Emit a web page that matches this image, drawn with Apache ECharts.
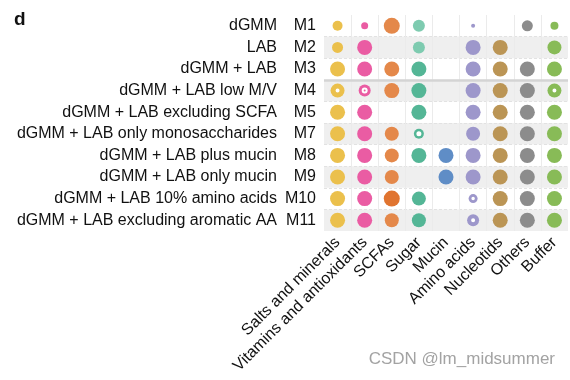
<!DOCTYPE html>
<html>
<head>
<meta charset="utf-8">
<script src="https://cdn.jsdelivr.net/npm/echarts@6/dist/echarts.min.js"></script>
<style>html,body{margin:0;padding:0;background:#fff;}#c{width:570px;height:380px;}</style>
</head>
<body>
<div id="c"></div>
<script>
// ---- data ----
var components = ['Salts and minerals','Vitamins and antioxidants','SCFAs','Sugar','Mucin','Amino acids','Nucleotids','Others','Buffer'];
var mediaCodes = ['M1','M2','M3','M4','M5','M7','M8','M9','M10','M11'];
var mediaNames = ['dGMM','LAB','dGMM + LAB','dGMM + LAB low M/V','dGMM + LAB excluding SCFA','dGMM + LAB only monosaccharides','dGMM + LAB plus mucin','dGMM + LAB only mucin','dGMM + LAB 10% amino acids','dGMM + LAB excluding aromatic AA'];
// dot diameters per component, one value per medium (0 = absent)
var saltsSize     = [10, 11, 15, 14, 15, 15, 15, 15, 15, 15];
var vitaminsSize  = [7, 15, 15, 12, 15, 15, 15, 15, 15, 15];
var scfaSize      = [16, 0, 15, 15, 0, 14, 14, 14, 16, 14];
var sugarSize     = [12, 12, 15, 15, 15, 10, 15, 0, 14, 14];
var mucinSize     = [0, 0, 0, 0, 0, 0, 15, 15, 0, 0];
var aminoSize     = [4, 15, 15, 15, 15, 14, 15, 15, 9, 12];
var nucleoSize    = [0, 15, 15, 15, 15, 15, 15, 15, 15, 15];
var othersSize    = [11, 0, 15, 15, 15, 15, 15, 15, 15, 15];
var bufferSize    = [8, 14, 15, 14, 15, 15, 15, 15, 15, 15];
// reduced-amount markers: [componentIndex, mediumIndex, holeDiameter, coreDiameter]
var reducedMarks = [[0,3,4,0],[1,3,6,2],[8,3,4,0],[3,5,5,0],[5,8,3.5,0],[5,9,4,0]];
// separator between base media and variants (after M3)
var groupBreak = [2.5];

// ---- styles ----
var colors = ['#ebc04c','#ea5ca3','#e4884a','#54b696','#5f8dc6','#9d97cb','#bb9555','#8c8c8c','#88bb57'];
var colorOverrides = {'3,0':'#7ecbb0','3,1':'#7ecbb0','2,8':'#e07430'};
var FONT = 'Liberation Sans, Arial, sans-serif';

var sizeArrays = [saltsSize, vitaminsSize, scfaSize, sugarSize, mucinSize, aminoSize, nucleoSize, othersSize, bufferSize];

function colorOf(c, r){ return colorOverrides[c+','+r] || colors[c]; }

var series = [];
sizeArrays.forEach(function(arr, c){
  var data = [];
  arr.forEach(function(s, r){
    if (s > 0) data.push({value:[c, r, s], itemStyle:{color: colorOf(c, r), opacity:1}});
  });
  series.push({
    type:'scatter', xAxisIndex:0, yAxisIndex:0, name: components[c],
    symbolSize: function(v){ return v[2]; },
    itemStyle:{opacity:1},
    data: data, z: 3, silent: true
  });
});
series.push({
  type:'scatter', xAxisIndex:0, yAxisIndex:0, z: 4, silent: true,
  itemStyle:{opacity:1},
  data: reducedMarks.map(function(m){
    var hole = m[2], core = m[3];
    return {value:[m[0], m[1], (hole+core)/2, (hole-core)/2],
      itemStyle:{color: colorOf(m[0], m[1]), borderColor:'#ffffff', borderWidth:(hole-core)/2, opacity:1}};
  }),
  symbolSize: function(v){ return v[2]; }
});
series.push({
  type:'scatter', xAxisIndex:0, yAxisIndex:2, data:[], silent:true,
  markLine:{silent:true, symbol:['none','none'], label:{show:false},
    lineStyle:{color:'#d4d4d4', width:2.5, type:'solid'},
    data: groupBreak.map(function(v){ return {yAxis:v}; })}
});

var chart = echarts.init(document.getElementById('c'), null, {renderer:'canvas'});
chart.setOption({
  animation:false,
  backgroundColor:'#ffffff',
  title:[
    {text:'d', left:9, top:5, textStyle:{fontFamily:FONT, fontSize:19, fontWeight:'bold', color:'#111'}},
    {text:'CSDN @lm_midsummer', right:10, bottom:7, textStyle:{fontFamily:FONT, fontSize:17, fontWeight:'normal', color:'#a3a3a3'}}
  ],
  grid:{left:324, right:2, top:15, bottom:149, containLabel:false},
  xAxis:[{
    type:'category', data:components, position:'bottom',
    axisLine:{show:false}, axisTick:{show:false},
    axisLabel:{rotate:45, margin:9, interval:0, fontFamily:FONT, fontSize:16, color:'#111'},
    splitLine:{show:true, interval:0, showMinLine:false, showMaxLine:false, lineStyle:{color:'#ebebeb', width:1}}
  }],
  yAxis:[{
    type:'category', data:mediaCodes, inverse:true, position:'left',
    axisLine:{show:false}, axisTick:{show:false},
    axisLabel:{margin:8, interval:0, fontFamily:FONT, fontSize:16, color:'#111'},
    splitLine:{show:true, interval:0, showMinLine:false, showMaxLine:false, lineStyle:{color:'#e2e2e2', width:1, type:[3,2]}},
    splitArea:{show:true, interval:0, areaStyle:{color:['rgba(255,255,255,0)','#efefef']}}
  },{
    type:'category', data:mediaNames, inverse:true, position:'left', offset:39,
    axisLine:{show:false}, axisTick:{show:false},
    axisLabel:{margin:8, interval:0, fontFamily:FONT, fontSize:16, color:'#111'},
    splitLine:{show:false}, splitArea:{show:false}
  },{
    type:'value', min:-0.5, max:9.5, inverse:true, show:false
  }],
  series: series
});
</script>
</body>
</html>
